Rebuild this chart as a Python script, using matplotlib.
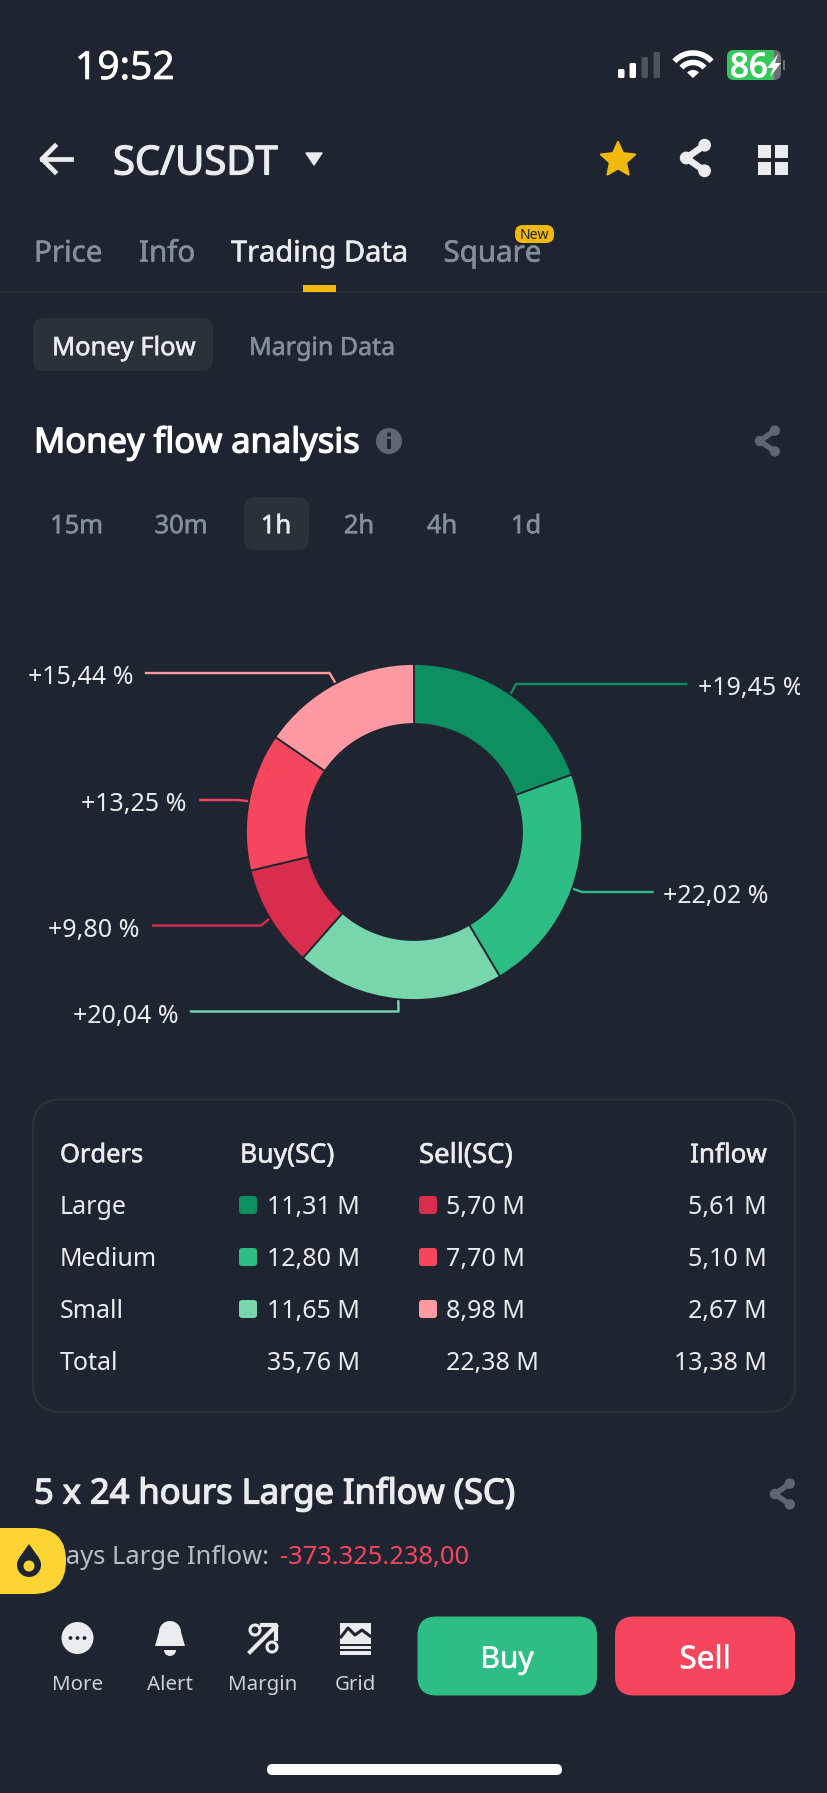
import numpy as np
import matplotlib
matplotlib.use('Agg')
import matplotlib.pyplot as plt
import matplotlib.patheffects as pe
from matplotlib.patches import FancyBboxPatch, Circle, Polygon, Rectangle, Wedge
from matplotlib.transforms import Bbox, TransformedBbox

plt.rcParams['font.family'] = ['Noto Sans', 'DejaVu Sans']

BG = '#1E2530'
PANEL = '#2B3139'
WHITE = '#EAECEF'
GREY = '#848E9C'
ICON = '#5E6673'

# donut, clockwise from the top
pie_values = [19.45, 22.02, 20.04, 9.80, 13.25, 15.44]
pie_colors = ['#0E8F60', '#2EBD85', '#78D6AD', '#D92D4D', '#F6465D', '#FF9AA2']

# table
row_names = ['Large', 'Medium', 'Small', 'Total']
buy_vals = [11.31, 12.80, 11.65, 35.76]
sell_vals = [5.70, 7.70, 8.98, 22.38]
inflow_vals = [5.61, 5.10, 2.67, 13.38]

tabs = ['Price', 'Info', 'Trading Data', 'Square']
periods = ['15m', '30m', '1h', '2h', '4h', '1d']
tools = ['More', 'Alert', 'Margin', 'Grid']
large_inflow = '-373.325.238,00'


def comma(v):
    return f'{v:.2f}'.replace('.', ',')


fig = plt.figure(figsize=(8.28, 17.93), dpi=100, facecolor=BG)
ax = fig.add_axes([0, 0, 1, 1])
ax.set_xlim(0, 828)
ax.set_ylim(1793, 0)
ax.axis('off')

# only the regular Noto Sans gets picked, so heavier text is a stroke on top
STROKE = {'normal': 0, 'medium': 0.4, 'bold': 0.95}


def txt(x, y, s, px, color=WHITE, ha='left', weight='normal', z=5):
    t = ax.text(x, y + 0.36 * px, s, fontsize=px * 0.72, color=color, ha=ha, va='baseline',
                zorder=z)
    if STROKE[weight] > 0:
        t.set_path_effects([pe.withStroke(linewidth=STROKE[weight], foreground=color)])
    return t


def box(x0, y0, x1, y1, r, color, edge='none', lw=0, z=2):
    ax.add_patch(FancyBboxPatch((x0, y0), x1 - x0, y1 - y0,
                                boxstyle=f'round,pad=0,rounding_size={r}',
                                fc=color, ec=edge, lw=lw, zorder=z))


def share(x, y, s, color):
    # s is about half of the icon height
    pts = [(x + s * 0.6, y - s * 0.8), (x - s * 0.55, y), (x + s * 0.6, y + s * 0.8)]
    ax.plot([p[0] for p in pts], [p[1] for p in pts], color=color, lw=s * 0.3, zorder=4)
    for p in pts:
        ax.add_patch(Circle(p, s * 0.4, fc=color, ec='none', zorder=4))


# status bar
txt(75, 65, '19:52', 39, '#FFFFFF', weight='medium')
bar_x = [618, 629.5, 641.5, 653.5]
bar_top = [69, 63, 57, 52]
bar_col = ['#FFFFFF', '#FFFFFF', '#4D535C', '#4D535C']
for bx, bt, bc in zip(bar_x, bar_top, bar_col):
    box(bx, bt, bx + 6.5, 78, 1.5, bc)
for r, lw in [(25, 4), (15.5, 4)]:
    t = np.radians(np.linspace(-138, -42, 40))
    ax.plot(693 + r * np.cos(t), 78 + r * np.sin(t), color='#FFFFFF', lw=lw, zorder=4,
            solid_capstyle='butt')
ax.add_patch(Wedge((693, 78), 8, 222, 318, fc='#FFFFFF', ec='none', zorder=4))
box(727, 50, 781, 80, 7, '#6B6F75')
box(727, 50, 774, 80, 7, '#34C759', z=3)
ax.add_patch(Rectangle((764, 50), 10, 30, fc='#34C759', ec='none', zorder=3))
ax.add_patch(Rectangle((783, 60), 2.5, 10, fc='#6B6F75', ec='none', zorder=3))
txt(730, 65, '86', 33, '#FFFFFF', weight='bold')
ax.add_patch(Polygon([(778, 54), (767, 68), (773, 68), (770, 77), (781, 63), (775, 63)],
                     fc='#FFFFFF', ec='none', zorder=6))

# top nav
ax.plot([42, 71], [159, 159], color=WHITE, lw=3.4, zorder=4)
ax.plot([55, 42, 55], [146, 159, 172], color=WHITE, lw=3.4, zorder=4)
txt(113, 160, 'SC/USDT', 40, weight='bold')
ax.add_patch(Polygon([(306, 153), (322, 153), (314, 165)], fc=WHITE, ec=WHITE, lw=1, joinstyle='round', zorder=4))
ang = np.radians(np.arange(10) * 36 - 90)
rad = np.where(np.arange(10) % 2 == 0, 18, 8.5)
ax.add_patch(Polygon(np.column_stack([618 + rad * np.cos(ang), 160 + rad * np.sin(ang)]),
                     fc='#F0B90B', ec='#F0B90B', lw=1.5, joinstyle='round', zorder=4))
share(695, 158, 16, WHITE)
for gx in (758, 775):
    for gy in (145, 162):
        ax.add_patch(Rectangle((gx, gy), 13.5, 13, fc=WHITE, ec='none', zorder=4))

# tabs
tab_x = [34, 139, 231, 443.5]
for i, (tx, name) in enumerate(zip(tab_x, tabs)):
    txt(tx, 251, name, 29.5 if i != 2 else 29, WHITE if i == 2 else GREY, weight='medium')
box(515, 225, 554, 243, 8, '#F0B90B', z=6)
txt(534.5, 234, 'New', 14, '#1E2329', ha='center', z=7)
ax.add_patch(Rectangle((303.5, 284.5), 32.5, 7, fc='#F0B90B', ec='none', zorder=4))
ax.plot([0, 828], [292, 292], color=PANEL, lw=1.4, zorder=3)

box(33, 318, 213, 371, 11, PANEL)
txt(52, 346, 'Money Flow', 25.5, weight='medium')
txt(249, 346, 'Margin Data', 25, GREY, weight='medium')

# heading
txt(34, 440, 'Money flow analysis', 34.5, '#FFFFFF', weight='bold')
ax.add_patch(Circle((389, 441), 13, fc=ICON, ec='none', zorder=4))
ax.add_patch(Rectangle((387.2, 439), 3.6, 10, fc=BG, ec='none', zorder=5))
ax.add_patch(Circle((389, 434.5), 2.1, fc=BG, ec='none', zorder=5))
share(767, 441, 13, ICON)

# periods
period_x = [76.5, 181, 276, 359, 442, 526]
box(244, 497, 309, 550, 11, PANEL)
for px_, name in zip(period_x, periods):
    txt(px_, 524, name, 25.5, WHITE if name == '1h' else GREY, ha='center', weight='medium')

# donut
cx, cy, R = 414, 832, 168
pie_ax = fig.add_axes([(cx - R) / 828, 1 - (cy + R) / 1793, 2 * R / 828, 2 * R / 1793])
pie_ax.pie(pie_values, colors=pie_colors, startangle=90, counterclock=False, radius=1,
           wedgeprops=dict(width=60 / 168, edgecolor=BG, linewidth=1.3, clip_on=False))
pie_ax.set_xlim(-1, 1)
pie_ax.set_ylim(-1, 1)
pie_ax.set_zorder(1)

# leader lines: elbow, far end, text anchor
leaders = [((516, 684), 686, 698.5, 'left'),
           ((582, 892), 652.5, 663.5, 'left'),
           ((398.5, 1011.5), 191, 179, 'right'),
           ((261, 925.5), 153, 140, 'right'),
           ((237.5, 800), 200.5, 186.5, 'right'),
           ((329.5, 673), 146, 134, 'right')]
mids = 360 * (np.cumsum(pie_values) - np.array(pie_values) / 2) / sum(pie_values)
for i, (m, col, val) in enumerate(zip(mids, pie_colors, pie_values)):
    elbow, end_x, text_x, ha = leaders[i]
    sx = cx + R * np.sin(np.radians(m))
    sy = cy - R * np.cos(np.radians(m))
    ax.plot([sx, elbow[0], end_x], [sy, elbow[1], elbow[1]], color=col, lw=1.7, zorder=0.5)
    lab = txt(text_x, elbow[1] + 2, f'+{comma(val)} %', 25, ha=ha)
    if i == 0:
        # the first label runs off the chart area in the app
        lab.set_clip_on(True)
        lab.set_clip_box(TransformedBbox(Bbox([[0, 0], [800, 1793]]), ax.transData))

# table
box(33, 1099.5, 795, 1412, 28, 'none', edge=PANEL, lw=1.5)
row_y = [1205, 1257, 1309, 1361]
txt(60, 1153, 'Orders', 25.5, weight='medium')
txt(240, 1153, 'Buy(SC)', 26.5, weight='medium')
txt(419, 1153, 'Sell(SC)', 27.5, weight='medium')
txt(767, 1153, 'Inflow', 26, ha='right', weight='medium')
for i, y in enumerate(row_y):
    txt(60, y, row_names[i], 25)
    txt(267, y, f'{comma(buy_vals[i])} M', 25)
    txt(446, y, f'{comma(sell_vals[i])} M', 25)
    txt(767, y, f'{comma(inflow_vals[i])} M', 25, ha='right')
    if i < 3:
        box(239, y - 9, 257, y + 9, 3, pie_colors[i])
        box(419, y - 9, 437, y + 9, 3, pie_colors[3 + i])

# second heading
txt(34, 1491, '5 x 24 hours Large Inflow (SC)', 34.5, WHITE, weight='bold')
share(782, 1494, 13, ICON)
txt(269, 1555, '5 days Large Inflow:', 25.5, '#B7BDC6', ha='right')
txt(280, 1555, large_inflow, 25.5, '#F6465D')

# floating yellow tab
box(-40, 1528, 66, 1594, 33, '#FCD535', z=8)
ax.add_patch(Circle((29, 1565), 12, fc=BG, ec='none', zorder=9))
ax.add_patch(Polygon([(19, 1558), (29, 1544), (39, 1558)], fc=BG, ec='none', zorder=9))
ax.add_patch(Circle((29, 1566), 5.5, fc='#FCD535', ec='none', zorder=10))

# bottom bar
tool_x = [77.5, 170, 263, 355]
for tx, name in zip(tool_x, tools):
    txt(tx, 1683, name, 20.5, '#CDD1D8', ha='center')
# more
ax.add_patch(Circle((77.5, 1638), 16, fc=WHITE, ec='none', zorder=4))
for dx in (-7, 0, 7):
    ax.add_patch(Circle((77.5 + dx, 1638), 1.9, fc=BG, ec='none', zorder=5))
# alert
ax.add_patch(Circle((170, 1632), 11, fc=WHITE, ec='none', zorder=4))
ax.add_patch(Polygon([(159, 1632), (181, 1632), (185, 1646), (155, 1646)], fc=WHITE, ec='none', zorder=4))
ax.add_patch(Wedge((170, 1650), 6, 0, 180, fc=WHITE, ec='none', zorder=4))
# margin
ax.plot([250, 276], [1652, 1626], color=WHITE, lw=3, zorder=4)
ax.plot([262, 276, 276], [1625, 1625, 1639], color=WHITE, lw=3, zorder=4)
ax.add_patch(Circle((255, 1630), 5, fc=BG, ec=WHITE, lw=2.2, zorder=4))
ax.add_patch(Circle((272, 1647), 5, fc=BG, ec=WHITE, lw=2.2, zorder=4))
# grid
ax.add_patch(Rectangle((340, 1623), 31, 21, fc=WHITE, ec='none', zorder=4))
ax.plot([341, 348, 355, 362, 370], [1637, 1628, 1635, 1630, 1636], color=BG, lw=2.2, zorder=5)
ax.add_patch(Rectangle((340, 1646), 31, 3, fc=WHITE, ec='none', zorder=4))
ax.add_patch(Rectangle((340, 1651), 31, 3.5, fc=WHITE, ec='none', zorder=4))

box(417.5, 1616.5, 597, 1695.5, 19, '#2EBD85')
box(615, 1616.5, 795, 1695.5, 19, '#F6465D')
txt(507, 1657, 'Buy', 30, '#FFFFFF', ha='center', weight='medium')
txt(705, 1657, 'Sell', 31.5, '#FFFFFF', ha='center', weight='medium')

box(267, 1764, 562, 1775, 5.5, '#FFFFFF')

fig.savefig('out.png', dpi=100, facecolor=BG)
